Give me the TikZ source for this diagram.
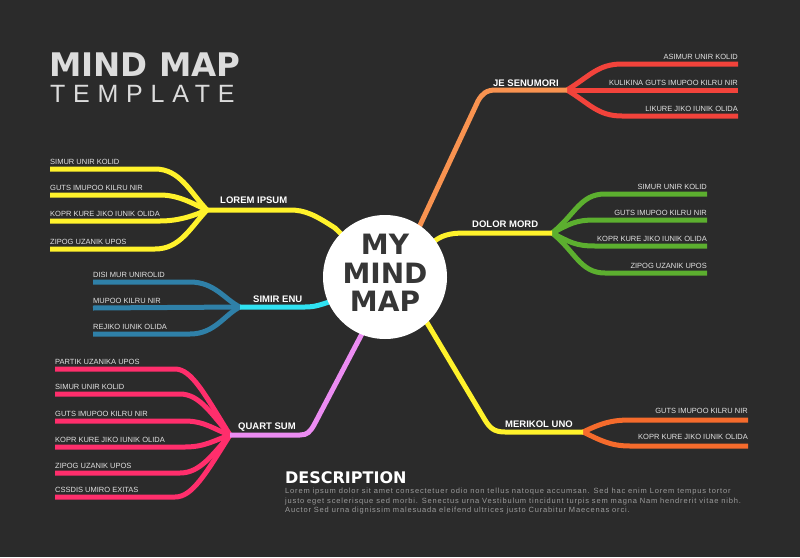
\documentclass[tikz,border=0pt]{standalone}
\usepackage{fontspec}
\setmainfont{Liberation Sans}
\newfontfamily\heavy{DejaVu Sans}
\definecolor{bg}{HTML}{2B2B2B}
\definecolor{ylw}{HTML}{FFF22B}
\definecolor{cyn}{HTML}{2FE2F2}
\definecolor{blu}{HTML}{2F80A8}
\definecolor{pnk}{HTML}{FF2E6C}
\definecolor{vio}{HTML}{EC8CF2}
\definecolor{org}{HTML}{F99350}
\definecolor{redl}{HTML}{F2433B}
\definecolor{grn}{HTML}{5CAF2F}
\definecolor{orn}{HTML}{F56B2C}
\definecolor{lbl}{HTML}{E2E2E2}
\definecolor{desc}{HTML}{9C9C9C}
\definecolor{ttl}{HTML}{DCDCDC}
\definecolor{dark}{HTML}{363636}
\tikzset{
  wire/.style={line width=5},
  leafl/.style={font=\fontsize{7.5}{9}\selectfont, text=lbl, inner sep=0, anchor=west},
  leafr/.style={font=\fontsize{7.5}{9}\selectfont, text=lbl, inner sep=0, anchor=east},
  branchlbl/.style={font=\bfseries\fontsize{9.5}{11}\selectfont, text=white, inner sep=0, anchor=west},
}
\begin{document}
\begin{tikzpicture}[x=1pt,y=-1pt]
\fill[bg] (0,0) rectangle (800,557);
\useasboundingbox (0,0) rectangle (800,557);

% title
\node[anchor=west, inner sep=0, text=ttl, font=\heavy\bfseries\fontsize{32.5}{33}\selectfont] (t1) at (49,64.5) {MIND MAP};
\node[anchor=west, inner sep=0, text=ttl, font=\fontsize{25}{25}\selectfont\addfontfeature{LetterSpace=31}] (t2) at (50,94) {TEMPLATE};

% hubs
\coordinate (hubL) at (207,210);
\coordinate (hubS) at (240,307);
\coordinate (hubQ) at (230,435);
\coordinate (hubJ) at (567,90);
\coordinate (hubD) at (552,233);
\coordinate (hubM) at (583,432);
\coordinate (cc) at (385,277);

% LOREM IPSUM
\coordinate (L1) at (50,169); \coordinate (L2) at (50,195);
\coordinate (L3) at (50,221); \coordinate (L4) at (50,249);
\draw[wire,ylw] (hubL) .. controls (190,192) and (180,169) .. (155,169) -- (L1);
\draw[wire,ylw] (hubL) .. controls (195,205) and (180,195) .. (160,195) -- (L2);
\draw[wire,ylw] (hubL) .. controls (195,215) and (180,221) .. (160,221) -- (L3);
\draw[wire,ylw] (hubL) .. controls (190,228) and (180,249) .. (155,249) -- (L4);
\draw[wire,ylw] (hubL) -- (290,210) .. controls (305,210) and (315,215) .. (335,228) -- (cc);

% SIMIR ENU
\coordinate (S1) at (93,282); \coordinate (S2) at (93,308); \coordinate (S3) at (93,334);
\draw[wire,blu] (hubS) .. controls (225,300) and (215,282) .. (190,282) -- (S1);
\draw[wire,blu] (hubS) -- (S2);
\draw[wire,blu] (hubS) .. controls (225,314) and (215,334) .. (190,334) -- (S3);
\draw[wire,cyn] (hubS) -- (305,307) .. controls (315,307) and (320,305) .. (335,300) -- (cc);

% QUART SUM
\coordinate (Q1) at (55,369); \coordinate (Q2) at (55,394); \coordinate (Q3) at (55,421);
\coordinate (Q4) at (55,447); \coordinate (Q5) at (55,473); \coordinate (Q6) at (55,497);
\draw[wire,pnk] (hubQ) .. controls (205,395) and (192,369) .. (175,369) -- (Q1);
\draw[wire,pnk] (hubQ) .. controls (212,415) and (200,394) .. (180,394) -- (Q2);
\draw[wire,pnk] (hubQ) .. controls (215,430) and (205,421) .. (185,421) -- (Q3);
\draw[wire,pnk] (hubQ) .. controls (215,440) and (205,447) .. (185,447) -- (Q4);
\draw[wire,pnk] (hubQ) .. controls (212,455) and (200,473) .. (180,473) -- (Q5);
\draw[wire,pnk] (hubQ) .. controls (205,475) and (192,497) .. (175,497) -- (Q6);
\draw[wire,vio] (hubQ) -- (300,435) .. controls (307,435) and (310,432) .. (314,425) -- (365,328) -- (cc);

% JE SENUMORI
\coordinate (J1) at (738,64); \coordinate (J2) at (738,90); \coordinate (J3) at (738,116);
\draw[wire,redl] (hubJ) .. controls (590,76) and (598,64) .. (622,64) -- (J1);
\draw[wire,redl] (hubJ) -- (J2);
\draw[wire,redl] (hubJ) .. controls (590,104) and (598,116) .. (622,116) -- (J3);
\draw[wire,org] (hubJ) -- (496,90) .. controls (486,90) and (482,94) .. (478,101) -- (415,236);

% DOLOR MORD
\coordinate (D1) at (707,194); \coordinate (D2) at (707,220);
\coordinate (D3) at (707,246); \coordinate (D4) at (707,273);
\draw[wire,grn] (hubD) .. controls (575,215) and (580,194) .. (605,194) -- (D1);
\draw[wire,grn] (hubD) .. controls (570,224) and (575,220) .. (595,220) -- (D2);
\draw[wire,grn] (hubD) .. controls (570,242) and (575,246) .. (595,246) -- (D3);
\draw[wire,grn] (hubD) .. controls (575,251) and (580,273) .. (605,273) -- (D4);
\draw[wire,ylw] (hubD) -- (465,233) .. controls (450,233) and (440,235) .. (430,245) -- (cc);

% MERIKOL UNO
\coordinate (M1) at (748,420); \coordinate (M2) at (748,446);
\draw[wire,orn] (hubM) .. controls (600,424) and (610,420) .. (630,420) -- (M1);
\draw[wire,orn] (hubM) .. controls (600,440) and (610,446) .. (630,446) -- (M2);
\draw[wire,ylw] (hubM) -- (505,432) .. controls (494,432) and (490,428) .. (485,420) -- (420,311);

% centre
\node[circle, fill=white, minimum size=124, inner sep=0] (centre) at (cc) {};
\node[inner sep=0, text=dark, align=center, font=\heavy\bfseries\fontsize{28}{28.5}\selectfont] (ctext) at (385,273) {MY\\MIND\\MAP};

% branch labels
\node[branchlbl] (bL) at (220,200) {LOREM IPSUM};
\node[branchlbl] (bS) at (253,299) {SIMIR ENU};
\node[branchlbl] (bQ) at (238,427) {QUART SUM};
\node[branchlbl] (bJ) at (493,83) {JE SENUMORI};
\node[branchlbl] (bD) at (472,224) {DOLOR MORD};
\node[branchlbl] (bM) at (505,424) {MERIKOL UNO};

% leaf labels
\node[leafl] at (50,162) {SIMUR UNIR KOLID};
\node[leafl] at (50,188) {GUTS IMUPOO KILRU NIR};
\node[leafl] at (50,214) {KOPR KURE JIKO IUNIK OLIDA};
\node[leafl] at (50,242) {ZIPOG UZANIK UPOS};

\node[leafl] at (93,275) {DISI MUR UNIROLID};
\node[leafl] at (93,301) {MUPOO KILRU NIR};
\node[leafl] at (93,327) {REJIKO IUNIK OLIDA};

\node[leafl] at (55,362) {PARTIK UZANIKA UPOS};
\node[leafl] at (55,387) {SIMUR UNIR KOLID};
\node[leafl] at (55,414) {GUTS IMUPOO KILRU NIR};
\node[leafl] at (55,440) {KOPR KURE JIKO IUNIK OLIDA};
\node[leafl] at (55,466) {ZIPOG UZANIK UPOS};
\node[leafl] at (55,490) {CSSDIS UMIRO EXITAS};

\node[leafr] at (738,57) {ASIMUR UNIR KOLID};
\node[leafr] at (738,83) {KULIKINA GUTS IMUPOO KILRU NIR};
\node[leafr] at (738,109) {LIKURE JIKO IUNIK OLIDA};

\node[leafr] at (707,187) {SIMUR UNIR KOLID};
\node[leafr] at (707,213) {GUTS IMUPOO KILRU NIR};
\node[leafr] at (707,239) {KOPR KURE JIKO IUNIK OLIDA};
\node[leafr] at (707,266) {ZIPOG UZANIK UPOS};

\node[leafr] at (748,411) {GUTS IMUPOO KILRU NIR};
\node[leafr] at (748,437) {KOPR KURE JIKO IUNIK OLIDA};

% description
\node[anchor=west, inner sep=0, text=white, font=\heavy\bfseries\fontsize{16}{16}\selectfont] (dtitle) at (285,478) {DESCRIPTION};
\node[anchor=north west, inner sep=0, align=left, text=desc, font=\fontsize{7.5}{9.6}\selectfont\addfontfeature{LetterSpace=11}] (dtext) at (285,488) {Lorem ipsum dolor sit amet consectetuer odio non tellus natoque accumsan. Sed hac enim Lorem tempus tortor\\justo eget scelerisque sed morbi. Senectus urna Vestibulum tincidunt turpis sem magna Nam hendrerit vitae nibh.\\Auctor Sed urna dignissim malesuada eleifend ultrices justo Curabitur Maecenas orci.};
\end{tikzpicture}
\end{document}
